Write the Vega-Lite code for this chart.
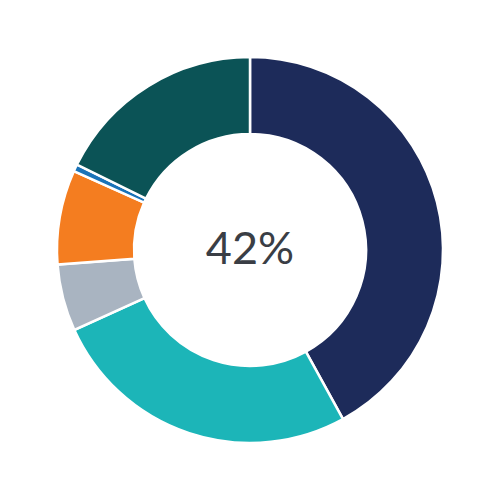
{
  "$schema": "https://vega.github.io/schema/vega-lite/v6.json",
  "width": 500,
  "height": 500,
  "autosize": {"type": "fit", "contains": "padding"},
  "padding": 0,
  "background": "white",
  "view": {"stroke": null},
  "data": {
    "values": [
      {"segment": "A", "share": 42.0, "rank": 1},
      {"segment": "B", "share": 26.2, "rank": 2},
      {"segment": "C", "share": 5.6, "rank": 3},
      {"segment": "D", "share": 7.9, "rank": 4},
      {"segment": "E", "share": 0.6, "rank": 5},
      {"segment": "F", "share": 17.7, "rank": 6}
    ]
  },
  "layer": [
    {
      "mark": {"type": "arc", "outerRadius": 193, "innerRadius": 116, "stroke": "white", "strokeWidth": 2.5},
      "encoding": {
        "theta": {"field": "share", "type": "quantitative", "stack": true},
        "order": {"field": "rank", "type": "quantitative"},
        "color": {
          "field": "segment",
          "type": "nominal",
          "legend": null,
          "scale": {
            "domain": ["A", "B", "C", "D", "E", "F"],
            "range": ["#1d2b5a", "#1cb5b8", "#a9b4c1", "#f47d20", "#1a73b8", "#0b5356"]
          }
        }
      }
    },
    {
      "data": {"values": [{"label": "42%"}]},
      "mark": {"type": "text", "font": "Lato", "fontWeight": 400, "fontSize": 45, "color": "#3a3e45", "align": "center", "baseline": "middle"},
      "encoding": {
        "text": {"field": "label"}
      }
    }
  ]
}
